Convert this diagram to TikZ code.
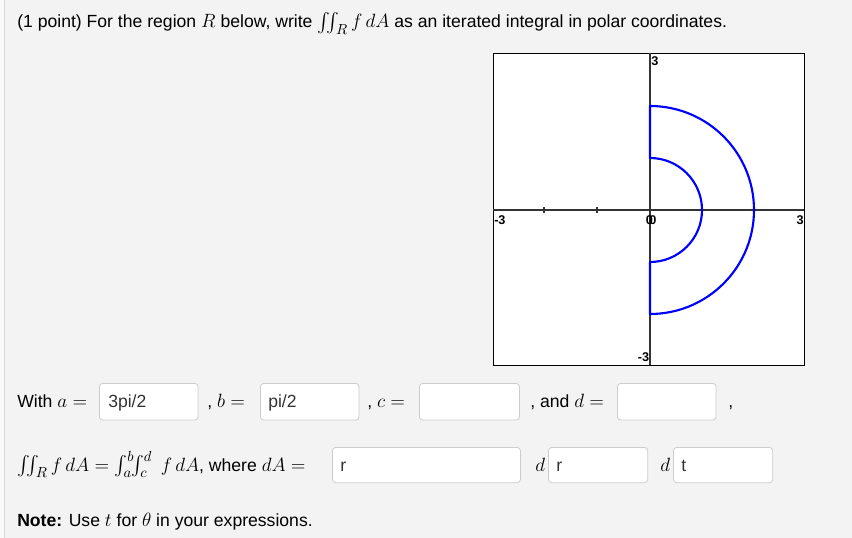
\documentclass[tikz,border=0pt]{standalone}
\usepackage{amsmath}
\usepackage{fontspec}
\setmainfont{Liberation Sans}
\definecolor{bg}{HTML}{F3F3F3}
\definecolor{boxline}{HTML}{CCCCCC}
\definecolor{entry}{HTML}{333333}
\definecolor{axisc}{HTML}{333333}
\definecolor{regionblue}{HTML}{0000FF}
\newcommand{\mth}[1]{{\fontsize{15.6}{18}\selectfont$#1$}}
\tikzset{
  txt/.style={anchor=base west, inner sep=0pt, font=\fontsize{13.2}{15}\selectfont, text=black},
  inbox/.style={draw=boxline, fill=white, rounded corners=2.5pt, line width=0.6pt, anchor=north west, inner sep=0pt, minimum height=27.5pt},
  entrytxt/.style={anchor=base west, inner sep=0pt, font=\fontsize{13.2}{15}\selectfont, text=entry},
  ticklab/.style={inner sep=0pt, font=\fontsize{9.5}{10}\selectfont\bfseries, text=black},
  region/.style={draw=regionblue, line width=1.6pt, line join=round}
}
\begin{document}
\begin{tikzpicture}[x=0.75pt, y=-0.75pt]
\useasboundingbox (0,0) rectangle (852,538);
\fill[bg] (0,0) rectangle (852,538);
\fill[white!50!bg] (0,0) rectangle (4,538);
\draw[white!85!black, line width=0.4pt] (4,0) -- (4,538);

% header
\node[txt] (head) at (17,28) {(1 point) For the region \mth{R} below, write \mth{\iint_R f\,dA} as an iterated integral in polar coordinates.};

% graph
\node[draw=black, line width=1pt, fill=white, anchor=north west, inner sep=0pt, minimum width=233.25pt, minimum height=234pt] (frame) at (493,53) {};
\coordinate (xl) at (493,210);
\coordinate (xr) at (804,210);
\coordinate (yt) at (650,53);
\coordinate (yb) at (650,365);
\draw[axisc, line width=0.8pt] (xl) -- (xr);
\draw[axisc, line width=0.8pt] (yt) -- (yb);
\draw[axisc, line width=0.8pt] (544,207) -- (544,213);
\draw[axisc, line width=0.8pt] (597,207) -- (597,213);
\begin{scope}[shift={(650,210)}, x=39pt, y=39pt]
  \coordinate (o) at (0,0);
  \draw[region] (0,1) -- (0,2) arc[start angle=90, end angle=-90, radius=2] -- (0,-1) arc[start angle=-90, end angle=90, radius=1] -- cycle;
\end{scope}
\node[ticklab, anchor=north west] (lt) at (651,56.5) {3};
\node[ticklab, anchor=north west] (ll) at (494,215.5) {-3};
\node[ticklab, anchor=north west] (lo1) at (645.5,215.5) {0};
\node[ticklab, anchor=north west] (lo2) at (649,215.5) {0};
\node[ticklab, anchor=north east] (lr) at (804,215.5) {3};
\node[ticklab, anchor=north east] (lb) at (649.5,352) {-3};

% row 2
\node[txt] (with) at (17,407) {With \mth{a=}};
\node[inbox, minimum width=74pt] (boxa) at (99,383) {};
\node[entrytxt] (va) at (108,407) {3pi/2};
\node[txt] (tb) at (207,407) {, \mth{b=}};
\node[inbox, minimum width=74pt] (boxb) at (260,383) {};
\node[entrytxt] (vb) at (268,407) {pi/2};
\node[txt] (tc) at (367,407) {, \mth{c=}};
\node[inbox, minimum width=75pt] (boxc) at (419,383) {};
\node[txt] (td) at (530,407) {, and \mth{d=}};
\node[inbox, minimum width=74pt] (boxd) at (617,383) {};
\node[txt] (tend) at (728,407) {,};

% row 3
\node[txt] (integ) at (17,471) {\mth{\iint_R f\,dA=\int_a^b\!\!\int_c^d\;f\,dA}, where \mth{dA=}};
\node[inbox, minimum width=141pt, minimum height=26.5pt] (box1) at (332,447) {};
\node[entrytxt] (v1) at (340,471) {r};
\node[txt] (d1) at (535,471) {\mth{d}};
\node[inbox, minimum width=74.5pt, minimum height=26.5pt] (box2) at (548,447) {};
\node[entrytxt] (v2) at (556,471) {r};
\node[txt] (d2) at (660,471) {\mth{d}};
\node[inbox, minimum width=74.5pt, minimum height=26.5pt] (box3) at (673,447) {};
\node[entrytxt] (v3) at (681,471) {t};

% note
\node[txt] (note) at (17,526) {\textbf{Note:} Use \mth{t} for \mth{\theta} in your expressions.};
\end{tikzpicture}
\end{document}
